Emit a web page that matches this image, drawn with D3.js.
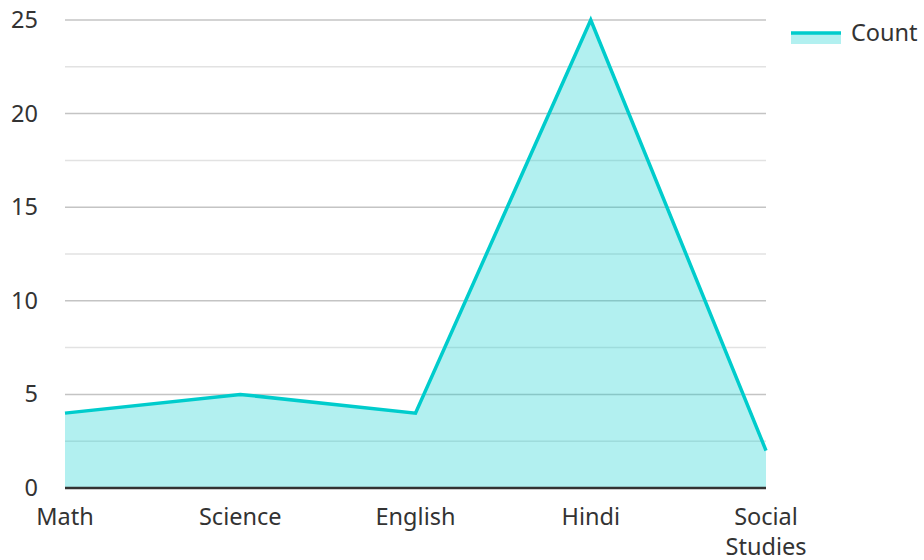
<!DOCTYPE html>
<html>
<head>
<meta charset="utf-8">
<script src="https://cdn.jsdelivr.net/npm/d3@7"></script>
<style>
  body { margin: 0; background: #fff; }
  text { font-family: "Noto Sans", "Open Sans", sans-serif; fill: #333; }
</style>
</head>
<body>
<svg width="924" height="560"></svg>
<script>
var subjects = ["Math", "Science", "English", "Hindi", "Social Studies"];
var counts = [4, 5, 4, 25, 2];
var yTicks = [0, 5, 10, 15, 20, 25];
var minorTicks = [2.5, 7.5, 12.5, 17.5, 22.5];

var svg = d3.select("svg");
var mLeft = 65, mRight = 766, mTop = 20, mBottom = 488;
var fs = "23.5px";

var x = d3.scalePoint().domain(subjects).range([mLeft, mRight]);
var y = d3.scaleLinear().domain([0, 25]).range([mBottom, mTop]);

var data = subjects.map(function (s, i) { return { s: s, v: counts[i] }; });

// grid
svg.selectAll(".minor").data(minorTicks).enter().append("line")
  .attr("x1", mLeft).attr("x2", mRight)
  .attr("y1", d => y(d)).attr("y2", d => y(d))
  .attr("stroke", "#e2e2e2").attr("stroke-width", 1.5);
svg.selectAll(".major").data(yTicks.filter(d => d > 0)).enter().append("line")
  .attr("x1", mLeft).attr("x2", mRight)
  .attr("y1", d => y(d)).attr("y2", d => y(d))
  .attr("stroke", "#c4c4c4").attr("stroke-width", 1.5);

// area + line
var area = d3.area().x(d => x(d.s)).y0(y(0)).y1(d => y(d.v));
var line = d3.line().x(d => x(d.s)).y(d => y(d.v));
svg.append("path").datum(data).attr("d", area)
  .attr("fill", "rgba(0,204,204,0.3)");
svg.append("path").datum(data).attr("d", line)
  .attr("fill", "none").attr("stroke", "#00cccc").attr("stroke-width", 3.5);

// baseline
svg.append("line").attr("x1", mLeft).attr("x2", mRight)
  .attr("y1", y(0)).attr("y2", y(0))
  .attr("stroke", "#333").attr("stroke-width", 2.5);

// y labels
svg.selectAll(".yl").data(yTicks).enter().append("text")
  .attr("x", 38).attr("y", d => y(d) + 8)
  .attr("text-anchor", "end").style("font-size", fs)
  .text(d => d);

// x labels
svg.selectAll(".xl").data(subjects).enter().append("text")
  .attr("text-anchor", "middle").style("font-size", fs)
  .attr("transform", d => "translate(" + x(d) + ",525)")
  .each(function (d) {
    var words = d.split(" ");
    var t = d3.select(this);
    words.forEach(function (w, i) {
      t.append("tspan").attr("x", 0).attr("y", i * 30).text(w);
    });
  });

// legend
svg.append("rect").attr("x", 791).attr("y", 33).attr("width", 50).attr("height", 11)
  .attr("fill", "rgba(0,204,204,0.3)");
svg.append("line").attr("x1", 791).attr("x2", 841).attr("y1", 33).attr("y2", 33)
  .attr("stroke", "#00cccc").attr("stroke-width", 3.5);
svg.append("text").attr("x", 851).attr("y", 41).style("font-size", fs).text("Count");
</script>
</body>
</html>
